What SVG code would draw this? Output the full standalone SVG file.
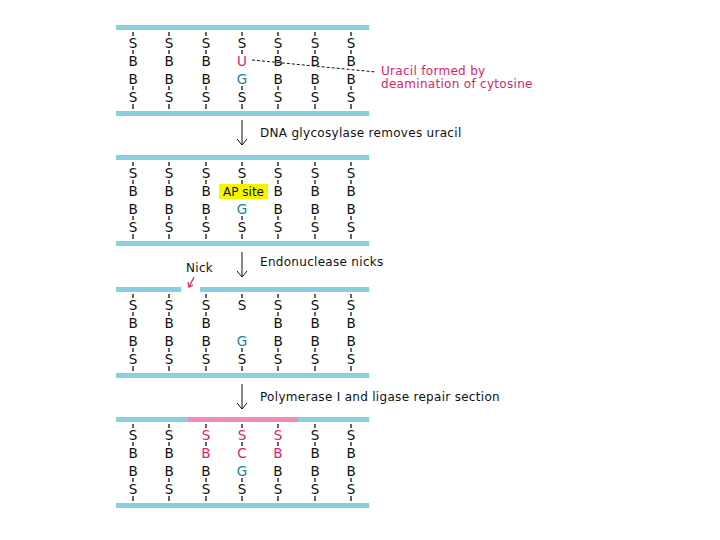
<svg xmlns="http://www.w3.org/2000/svg" width="720" height="540" viewBox="0 0 720 540">
<style>
text{font-family:"DejaVu Sans","Liberation Sans",sans-serif;font-size:13.5px;fill:#111;}
.c{text-anchor:middle}
.m{fill:#d6246e}
.t{fill:#1a7fa0}
.lbl{font-size:12px;letter-spacing:0.3px}
.bar{fill:#88cfe0}
.tk{stroke:#111;stroke-width:1.3}
.ar{stroke:#111;stroke-width:1;fill:none}
</style>
<defs>
<g id="col">
<line class="tk" x1="0" y1="5" x2="0" y2="9"/>
<line class="tk" x1="0" y1="23" x2="0" y2="27"/>
<line class="tk" x1="0" y1="59" x2="0" y2="63"/>
<line class="tk" x1="0" y1="77" x2="0" y2="82"/>
</g>
<g id="fullcol">
<use href="#col"/>
<text class="c" x="0" y="21">S</text><text class="c" x="0" y="39">B</text>
<text class="c" x="0" y="57">B</text><text class="c" x="0" y="75">S</text>
</g>
</defs>
<g id="label1">
<line x1="252" y1="60" x2="376" y2="72" stroke="#111" stroke-dasharray="3,2"/>
<text class="m lbl" x="381" y="75">Uracil formed by</text>
<text class="m lbl" x="381" y="88">deamination of cytosine</text>
</g>
<g id="panel1" transform="translate(0,27)">
<rect class="bar" x="116" y="-2" width="253" height="5"/>
<rect class="bar" x="116" y="84" width="253" height="5"/>
<use href="#fullcol" x="133"/><use href="#fullcol" x="169"/><use href="#fullcol" x="206"/>
<use href="#col" x="242"/>
<text class="c" x="242" y="21">S</text><text class="c m" x="242" y="39">U</text>
<text class="c t" x="242" y="57">G</text><text class="c" x="242" y="75">S</text>
<use href="#fullcol" x="278"/><use href="#fullcol" x="315"/><use href="#fullcol" x="351"/>
</g>
<g id="connectors">
<line class="ar" x1="242" y1="120" x2="242" y2="145"/><path class="ar" d="M237,139 L242,145 L247,139"/>
<line class="ar" x1="242" y1="252" x2="242" y2="277"/><path class="ar" d="M237,271 L242,277 L247,271"/>
<line class="ar" x1="242" y1="384" x2="242" y2="409"/><path class="ar" d="M237,403 L242,409 L247,403"/>
<line x1="194" y1="277" x2="189" y2="287" stroke="#d6246e" stroke-width="1.2"/><path d="M188,282 L189,287 L193,285" stroke="#d6246e" fill="none" stroke-width="1.2"/>
</g>
<text class="lbl" x="260" y="137">DNA glycosylase removes uracil</text>
<text class="lbl" x="260" y="266">Endonuclease nicks</text>
<text class="lbl" x="186" y="272">Nick</text>
<text class="lbl" x="260" y="401">Polymerase I and ligase repair section</text>
<g id="panel2" transform="translate(0,157)">
<rect class="bar" x="116" y="-2" width="253" height="5"/>
<rect class="bar" x="116" y="84" width="253" height="5"/>
<use href="#fullcol" x="133"/><use href="#fullcol" x="169"/><use href="#fullcol" x="206"/>
<use href="#col" x="242"/>
<rect x="219" y="27" width="49" height="15" fill="#f5f500"/>
<text class="c" x="242" y="21">S</text><text class="c" x="243.5" y="39" style="font-size:12px">AP site</text>
<text class="c t" x="242" y="57">G</text><text class="c" x="242" y="75">S</text>
<use href="#fullcol" x="278"/><use href="#fullcol" x="315"/><use href="#fullcol" x="351"/>
</g>
<g id="panel3" transform="translate(0,289)">
<rect class="bar" x="116" y="-2" width="65" height="5"/>
<rect class="bar" x="200" y="-2" width="169" height="5"/>
<rect class="bar" x="116" y="84" width="253" height="5"/>
<use href="#fullcol" x="133"/><use href="#fullcol" x="169"/><use href="#fullcol" x="206"/>
<line class="tk" x1="242" y1="5" x2="242" y2="9"/>
<line class="tk" x1="242" y1="59" x2="242" y2="63"/>
<line class="tk" x1="242" y1="77" x2="242" y2="82"/>
<text class="c" x="242" y="21">S</text>
<text class="c t" x="242" y="57">G</text><text class="c" x="242" y="75">S</text>
<use href="#fullcol" x="278"/><use href="#fullcol" x="315"/><use href="#fullcol" x="351"/>
</g>
<g id="panel4" transform="translate(0,419)">
<rect class="bar" x="116" y="-2" width="253" height="5"/>
<rect x="188" y="-2" width="110" height="5" fill="#f08cb8"/>
<rect class="bar" x="116" y="84" width="253" height="5"/>
<use href="#fullcol" x="133"/><use href="#fullcol" x="169"/>
<use href="#col" x="206"/><use href="#col" x="242"/><use href="#col" x="278"/>
<text class="c m" x="206" y="21">S</text><text class="c m" x="206" y="39">B</text>
<text class="c m" x="242" y="21">S</text><text class="c m" x="242" y="39">C</text>
<text class="c m" x="278" y="21">S</text><text class="c m" x="278" y="39">B</text>
<text class="c" x="206" y="57">B</text><text class="c" x="206" y="75">S</text>
<text class="c t" x="242" y="57">G</text><text class="c" x="242" y="75">S</text>
<text class="c" x="278" y="57">B</text><text class="c" x="278" y="75">S</text>
<use href="#fullcol" x="315"/><use href="#fullcol" x="351"/>
</g>
</svg>
